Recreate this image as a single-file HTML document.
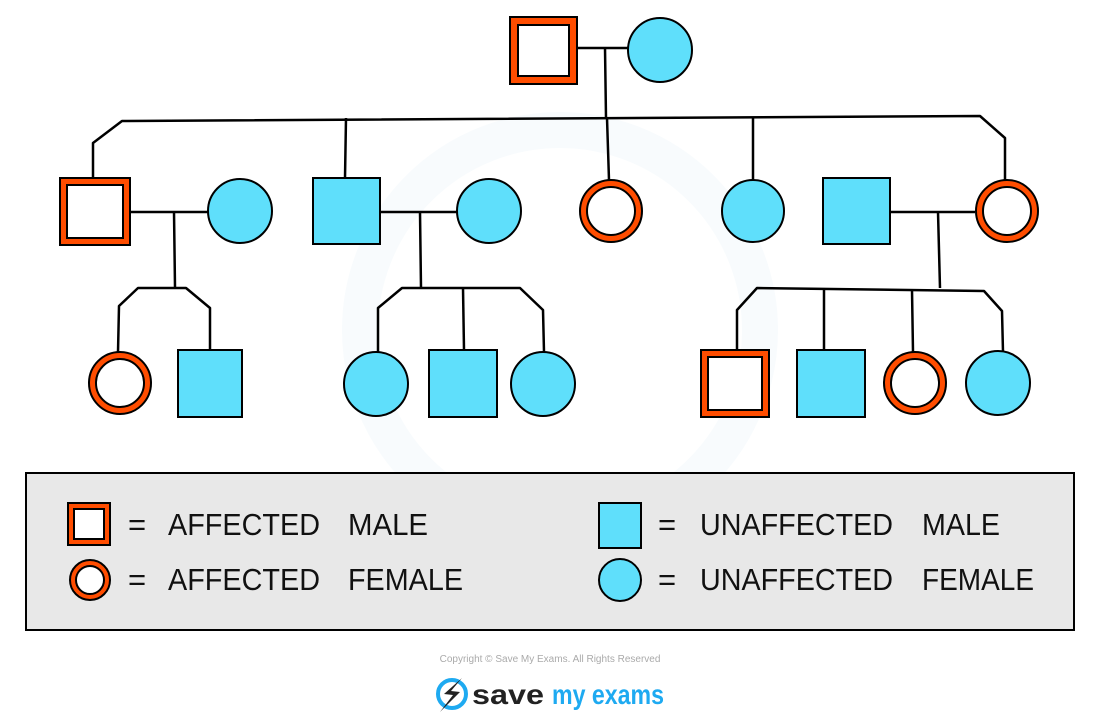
<!DOCTYPE html>
<html><head><meta charset="utf-8"><style>
html,body{margin:0;padding:0;background:#fff;}
svg{display:block;}
text{font-family:"Liberation Sans",sans-serif;}
</style></head><body>
<svg width="1100" height="726" viewBox="0 0 1100 726" xmlns="http://www.w3.org/2000/svg">
<!-- watermark -->
<circle cx="560" cy="330" r="200" fill="none" stroke="#f8fbfd" stroke-width="36"/>
<g fill="none" stroke="#000" stroke-width="2.5" stroke-linejoin="round">
<!-- gen1 -->
<path d="M577 48 L628 48 M605 48 L606 118"/>
<path d="M93 178 L93 143 L122 121 L980 116 L1005 138 L1005 180"/>
<path d="M346 118 L345 178 M607 118 L609 180 M753 118 L753 180"/>
<!-- gen2 marriages -->
<path d="M130 212 L208 212 M174 212 L175 287"/>
<path d="M380 212 L457 212 M420 212 L421 288"/>
<path d="M890 212 L975 212 M938 212 L940 288"/>
<!-- gen3 left -->
<path d="M118 352 L119 306 L138 288 L186 288 L210 308 L210 350"/>
<!-- gen3 mid -->
<path d="M378 352 L378 308 L402 288 L520 288 L543 310 L544 352"/>
<path d="M463 288 L464 350"/>
<!-- gen3 right -->
<path d="M737 350 L737 310 L757 288 L984 291 L1002 311 L1003 352"/>
<path d="M824 289 L824 350 M912 290 L913 352"/>
</g>
<g stroke="#000" stroke-width="2">
<!-- affected males -->
<rect x="510" y="17" width="67" height="67" fill="#ff4d00"/><rect x="518" y="25" width="51" height="51" fill="#fff"/>
<rect x="60" y="178" width="70" height="67" fill="#ff4d00"/><rect x="67" y="185" width="56" height="53" fill="#fff"/>
<rect x="701" y="350" width="68" height="67" fill="#ff4d00"/><rect x="708" y="357" width="54" height="53" fill="#fff"/>
<!-- unaffected males -->
<rect x="313" y="178" width="67" height="66" fill="#5fdffb"/>
<rect x="823" y="178" width="67" height="66" fill="#5fdffb"/>
<rect x="178" y="350" width="64" height="67" fill="#5fdffb"/>
<rect x="429" y="350" width="68" height="67" fill="#5fdffb"/>
<rect x="797" y="350" width="68" height="67" fill="#5fdffb"/>
<!-- unaffected females -->
<circle cx="660" cy="50" r="32" fill="#5fdffb"/>
<circle cx="240" cy="211" r="32" fill="#5fdffb"/>
<circle cx="489" cy="211" r="32" fill="#5fdffb"/>
<circle cx="753" cy="211" r="31" fill="#5fdffb"/>
<circle cx="376" cy="384" r="32" fill="#5fdffb"/>
<circle cx="543" cy="384" r="32" fill="#5fdffb"/>
<circle cx="998" cy="383" r="32" fill="#5fdffb"/>
<!-- affected females -->
<circle cx="611" cy="211" r="31" fill="#ff4d00"/><circle cx="611" cy="211" r="24" fill="#fff"/>
<circle cx="1007" cy="211" r="31" fill="#ff4d00"/><circle cx="1007" cy="211" r="24" fill="#fff"/>
<circle cx="120" cy="383" r="31" fill="#ff4d00"/><circle cx="120" cy="383" r="24" fill="#fff"/>
<circle cx="915" cy="383" r="31" fill="#ff4d00"/><circle cx="915" cy="383" r="24" fill="#fff"/>
</g>
<!-- legend -->
<rect x="26" y="473" width="1048" height="157" fill="#e8e8e8" stroke="#000" stroke-width="2"/>
<g stroke="#000" stroke-width="2">
<rect x="68" y="503" width="42" height="42" fill="#ff4d00"/><rect x="74" y="509" width="30" height="30" fill="#fff"/>
<circle cx="90" cy="580" r="20" fill="#ff4d00"/><circle cx="90" cy="580" r="14" fill="#fff"/>
<rect x="599" y="503" width="42" height="45" fill="#5fdffb"/>
<circle cx="620" cy="580" r="21" fill="#5fdffb"/>
</g>
<g font-size="31" fill="#111">
<text x="128" y="535">=</text>
<text x="168" y="535" textLength="152" lengthAdjust="spacingAndGlyphs">AFFECTED</text>
<text x="348" y="535" textLength="80" lengthAdjust="spacingAndGlyphs">MALE</text>
<text x="128" y="590">=</text>
<text x="168" y="590" textLength="152" lengthAdjust="spacingAndGlyphs">AFFECTED</text>
<text x="348" y="590" textLength="115" lengthAdjust="spacingAndGlyphs">FEMALE</text>
<text x="658" y="535">=</text>
<text x="700" y="535" textLength="193" lengthAdjust="spacingAndGlyphs">UNAFFECTED</text>
<text x="922" y="535" textLength="78" lengthAdjust="spacingAndGlyphs">MALE</text>
<text x="658" y="590">=</text>
<text x="700" y="590" textLength="193" lengthAdjust="spacingAndGlyphs">UNAFFECTED</text>
<text x="922" y="590" textLength="112" lengthAdjust="spacingAndGlyphs">FEMALE</text>
</g>
<text x="550" y="662" font-size="10" fill="#aaa" text-anchor="middle">Copyright © Save My Exams. All Rights Reserved</text>
<circle cx="452" cy="694" r="14" fill="none" stroke="#1eaaf1" stroke-width="4"/>
<path d="M462 678 L444 694 L453 695 L440 712 L460 692 L451 691 Z" fill="#222"/>
<text x="472" y="704" font-size="28" font-weight="bold" fill="#222" textLength="72" lengthAdjust="spacingAndGlyphs">save</text>
<text x="552" y="704" font-size="28" font-weight="bold" fill="#1eaaf1" textLength="112" lengthAdjust="spacingAndGlyphs">my exams</text>
</svg>
</body></html>
